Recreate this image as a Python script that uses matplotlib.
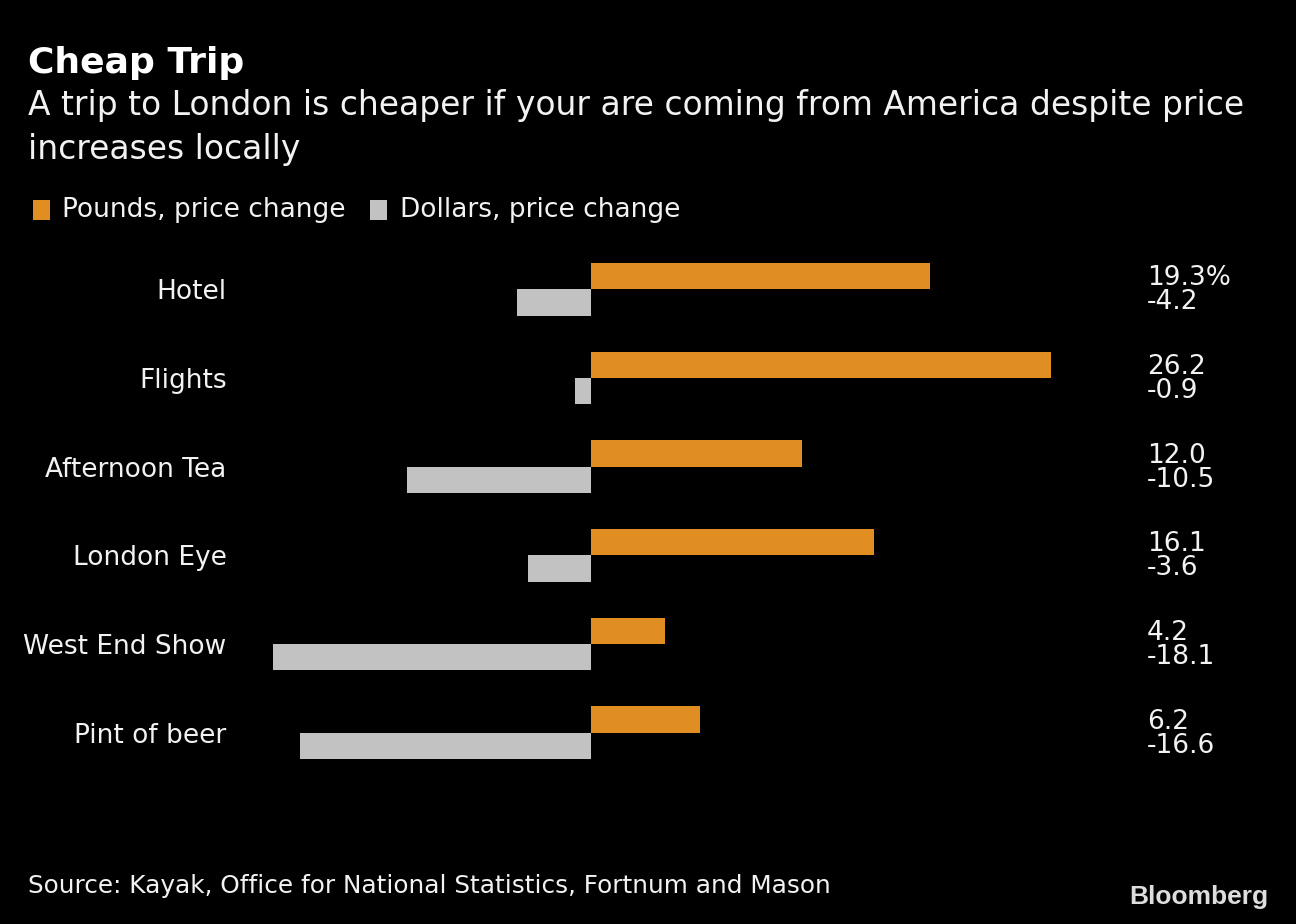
import matplotlib.pyplot as plt
from matplotlib.patches import Rectangle

# Chart data
categories = ["Hotel", "Flights", "Afternoon Tea", "London Eye", "West End Show", "Pint of beer"]
pounds_change = [19.3, 26.2, 12.0, 16.1, 4.2, 6.2]
dollars_change = [-4.2, -0.9, -10.5, -3.6, -18.1, -16.6]
pounds_labels = ["19.3%", "26.2", "12.0", "16.1", "4.2", "6.2"]
dollars_labels = ["-4.2", "-0.9", "-10.5", "-3.6", "-18.1", "-16.6"]

ORANGE = "#E08D22"
GREY = "#C2C2C2"
TEXT = "#F2F2F2"
FONT = ["DejaVu Sans"]

W, H = 1296, 924
fig = plt.figure(figsize=(W / 100, H / 100), dpi=100, facecolor="black")

def fx(px):
    return px / W

def fy(py):
    return 1 - py / H

# Header
fig.text(fx(28), fy(63), "Cheap Trip", color="white", fontsize=26, fontweight="bold",
         family=FONT, va="center", ha="left")
fig.text(fx(28), fy(106), "A trip to London is cheaper if your are coming from America despite price",
         color=TEXT, fontsize=23.7, family=FONT, va="center", ha="left")
fig.text(fx(28), fy(149), "increases locally", color=TEXT, fontsize=23.7, family=FONT,
         va="center", ha="left")

# Legend
fig.patches.append(Rectangle((fx(33), fy(220)), fx(17), 20 / H, transform=fig.transFigure,
                             facecolor=ORANGE, edgecolor="none"))
fig.text(fx(62), fy(210), "Pounds, price change", color=TEXT, fontsize=19, family=FONT,
         va="center", ha="left")
fig.patches.append(Rectangle((fx(370), fy(220)), fx(17), 20 / H, transform=fig.transFigure,
                             facecolor=GREY, edgecolor="none"))
fig.text(fx(400), fy(210), "Dollars, price change", color=TEXT, fontsize=19, family=FONT,
         va="center", ha="left")

# Bars
ax_left, ax_right = 235, 1100
ax_top, ax_bottom = 245, 777
ax = fig.add_axes([fx(ax_left), fy(ax_bottom), fx(ax_right - ax_left), (ax_bottom - ax_top) / H])
ax.set_facecolor("black")

scale = (1051 - 591) / 26.2
ax.set_xlim(-(591 - ax_left) / scale, (ax_right - 591) / scale)
n = len(categories)
ax.set_ylim(n - 0.5, -0.5)

bar_h = 26 / 88
ys = list(range(n))
ax.barh([y - bar_h / 2 for y in ys], pounds_change, height=bar_h, color=ORANGE)
ax.barh([y + bar_h / 2 for y in ys], dollars_change, height=bar_h, color=GREY)

for spine in ax.spines.values():
    spine.set_visible(False)
ax.set_xticks([])
ax.set_yticks(ys)
ax.set_yticklabels(categories, color=TEXT, fontsize=19, family=FONT)
ax.tick_params(axis="y", length=0, pad=6)

# Value labels on the right
for y, pl, dl in zip(ys, pounds_labels, dollars_labels):
    fig.text(fx(1147), ax.transData.transform((0, y - bar_h / 2))[1] / H - 2 / H, pl,
             color=TEXT, fontsize=19, family=FONT, va="center", ha="left")
    fig.text(fx(1147), ax.transData.transform((0, y + bar_h / 2))[1] / H, dl,
             color=TEXT, fontsize=19, family=FONT, va="center", ha="left")

# Footer
fig.text(fx(28), fy(886), "Source: Kayak, Office for National Statistics, Fortnum and Mason",
         color=TEXT, fontsize=17.8, family=FONT, va="center", ha="left")
fig.text(fx(1268), fy(897), "Bloomberg", color="#DDDDDD", fontsize=19, fontweight="bold",
         family=["Liberation Sans", "DejaVu Sans"], va="center", ha="right")

fig.savefig("out.png", dpi=100, facecolor="black")
